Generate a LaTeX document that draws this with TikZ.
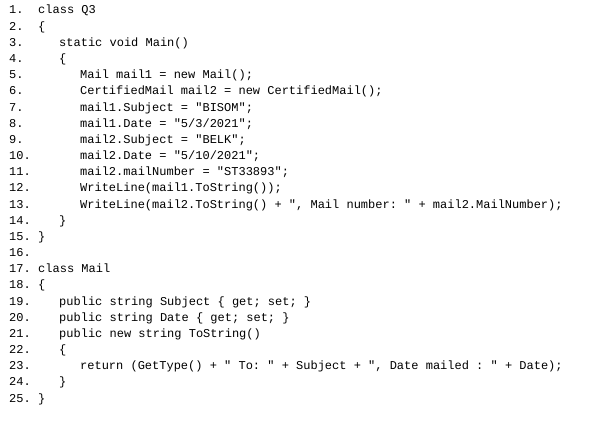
\documentclass[tikz,border=0pt]{standalone}
\usepackage{fontspec}
\setmonofont{Liberation Mono}
\begin{document}
\begin{tikzpicture}[x=1pt,y=1pt,
  code/.style={anchor=base west,inner sep=0pt,font=\ttfamily\fontsize{12}{14}\selectfont}]
\useasboundingbox (0,0) rectangle (606,421);
\fill[white] (0,0) rectangle (606,421);
\def\ln#1#2#3{\node[code] (n#1) at (9,{421-14-(#1-1)*16.17}) {#1.};
  \node[code] (t#1) at (#2,{421-14-(#1-1)*16.17}) {#3};}
\ln{1}{38}{class Q3}
\ln{2}{38}{\{}
\ln{3}{59}{static void Main()}
\ln{4}{59}{\{}
\ln{5}{80}{Mail mail1 = new Mail();}
\ln{6}{80}{CertifiedMail mail2 = new CertifiedMail();}
\ln{7}{80}{mail1.Subject = "BISOM";}
\ln{8}{80}{mail1.Date = "5/3/2021";}
\ln{9}{80}{mail2.Subject = "BELK";}
\ln{10}{80}{mail2.Date = "5/10/2021";}
\ln{11}{80}{mail2.mailNumber = "ST33893";}
\ln{12}{80}{WriteLine(mail1.ToString());}
\ln{13}{80}{WriteLine(mail2.ToString() + ", Mail number: " + mail2.MailNumber);}
\ln{14}{59}{\}}
\ln{15}{38}{\}}
\ln{16}{38}{}
\ln{17}{38}{class Mail}
\ln{18}{38}{\{}
\ln{19}{59}{public string Subject \{ get; set; \}}
\ln{20}{59}{public string Date \{ get; set; \}}
\ln{21}{59}{public new string ToString()}
\ln{22}{59}{\{}
\ln{23}{80}{return (GetType() + " To: " + Subject + ", Date mailed : " + Date);}
\ln{24}{59}{\}}
\ln{25}{38}{\}}
\end{tikzpicture}
\end{document}
